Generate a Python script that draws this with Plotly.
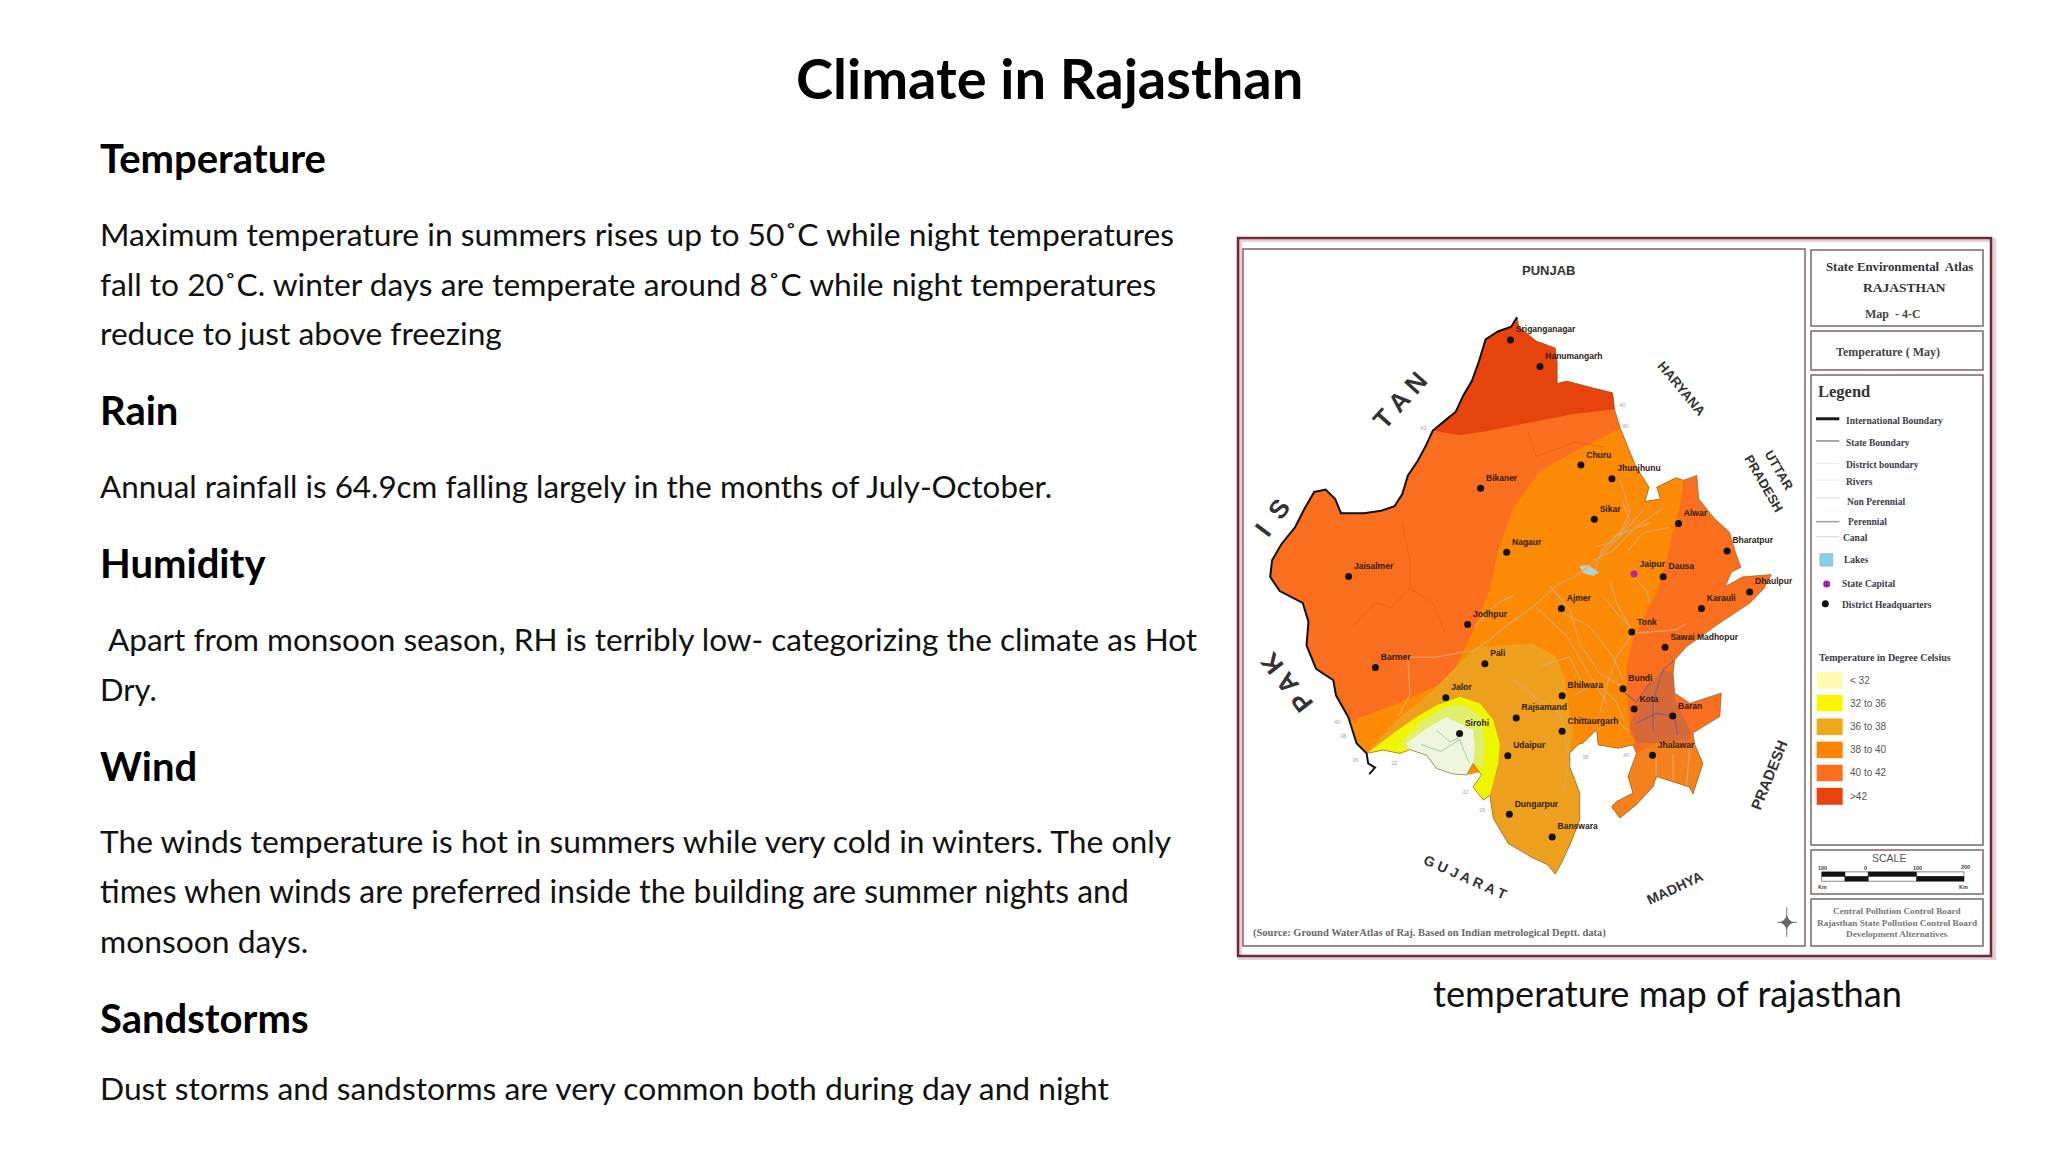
import plotly.graph_objects as go

# slide text
title_text = "Climate in Rajasthan"
heading_labels = ["Temperature", "Rain", "Humidity", "Wind", "Sandstorms"]
heading_y = [158, 410, 563, 766, 1018]
body_lines = [
    "Maximum temperature in summers rises up to 50˚C while night temperatures",
    "fall to 20˚C. winter days are temperate around 8˚C while night temperatures",
    "reduce to just above freezing",
    "Annual rainfall is 64.9cm falling largely in the months of July-October.",
    "Apart from monsoon season, RH is terribly low- categorizing the climate as Hot",
    "Dry.",
    "The winds temperature is hot in summers while very cold in winters. The only",
    "times when winds are preferred inside the building are summer nights and",
    "monsoon days.",
    "Dust storms and sandstorms are very common both during day and night",
]
body_y = [234, 284, 333, 486, 639, 689, 841, 891, 941, 1088]
body_x = [98, 98, 98, 98, 106, 98, 98, 98, 98, 98]
# Lato runs a little off Calibri, so each line gets its own size
body_size = [31.8, 31.7, 31.7, 31.37, 31.5, 31, 31.8, 31.9, 31.8, 31.75]
caption_text = "temperature map of rajasthan"

# map outline and temperature zones
border_x = [750, 735, 700, 668, 650, 632, 610, 590, 560, 530, 510, 490, 465, 450, 430, 395, 350, 290, 275, 250, 220, 195, 170, 135, 110, 105, 130, 190, 205, 200, 225, 270, 277, 309, 331, 357, 361, 379, 364]
border_y = [185, 205, 215, 232, 280, 320, 350, 385, 405, 425, 460, 490, 520, 560, 585, 595, 600, 600, 570, 550, 555, 590, 630, 665, 700, 735, 765, 790, 830, 880, 930, 954, 986, 1032, 1088, 1109, 1130, 1139, 1153]

state_x = [750, 735, 700, 668, 650, 632, 610, 590, 560, 530, 510, 490, 465, 450, 430, 395, 350, 290, 275, 250, 220, 195, 170, 135, 110, 105, 130, 190, 205, 200, 225, 270, 277, 309, 331, 357, 400, 444, 470, 514, 540, 579, 618, 635, 657, 635, 662, 679, 688, 727, 790, 830, 850, 870, 890, 914, 914, 888, 888, 910, 923, 958, 962, 1014, 1053, 1062, 1040, 1053, 1010, 997, 1019, 1062, 1106, 1114, 1200, 1210, 1236, 1215, 1210, 1280, 1284, 1202, 1162, 1158, 1162, 1193, 1280, 1358, 1395, 1415, 1340, 1295, 1310, 1335, 1320, 1305, 1265, 1225, 1220, 1185, 1165, 1115, 1125, 1085, 1095, 1060, 1040, 1020, 1005, 1000, 950, 880, 855, 855, 850, 800, 755]
state_y = [185, 205, 215, 232, 280, 320, 350, 385, 405, 425, 460, 490, 520, 560, 585, 595, 600, 600, 570, 550, 555, 590, 630, 665, 700, 735, 765, 790, 830, 880, 930, 954, 986, 1032, 1088, 1109, 1102, 1109, 1101, 1113, 1141, 1152, 1155, 1130, 1155, 1180, 1208, 1198, 1247, 1300, 1330, 1345, 1365, 1335, 1300, 1250, 1193, 1137, 1108, 1090, 1087, 1059, 1091, 1098, 1091, 1109, 1158, 1193, 1211, 1222, 1246, 1218, 1179, 1158, 1180, 1195, 1130, 1091, 1066, 1031, 981, 1003, 981, 939, 911, 883, 833, 791, 760, 730, 735, 755, 725, 715, 680, 640, 610, 570, 520, 530, 525, 545, 570, 575, 545, 500, 460, 420, 380, 345, 335, 320, 325, 280, 250, 235, 205]

hot_x = [750, 735, 700, 668, 650, 632, 610, 590, 560, 530, 600, 680, 800, 900, 1005, 1000, 950, 880, 855, 855, 850, 800, 755]
hot_y = [185, 205, 215, 232, 280, 320, 350, 385, 405, 425, 435, 425, 405, 390, 380, 345, 335, 320, 325, 280, 250, 235, 205]

mid_x = [1020, 1040, 1060, 1095, 1085, 1125, 1115, 1165, 1185, 1175, 1158, 1141, 1115, 1088, 1053, 1036, 1040, 1045, 1062, 1053, 1014, 962, 958, 923, 910, 888, 640, 618, 579, 540, 514, 470, 444, 400, 357, 331, 313, 426, 514, 574, 640, 680, 700, 740, 810, 900]
mid_y = [420, 460, 500, 545, 575, 570, 545, 525, 530, 590, 636, 699, 770, 812, 869, 925, 1010, 1066, 1087, 1091, 1098, 1091, 1059, 1087, 1090, 1108, 1150, 1155, 1152, 1141, 1113, 1101, 1109, 1102, 1109, 1088, 1042, 1007, 975, 954, 840, 760, 680, 590, 510, 470]

lobe_x = [1062, 1040, 1053, 1010, 997, 1019, 1062, 1106, 1114, 1200, 1210, 1236, 1215, 1114]
lobe_y = [1109, 1158, 1193, 1211, 1222, 1246, 1218, 1179, 1158, 1180, 1195, 1130, 1091, 1087]

warm_x = [365, 444, 531, 640, 792, 853, 875, 884, 897, 888, 888, 914, 914, 890, 870, 850, 830, 790, 727, 688, 679, 662, 635, 657, 635, 618, 579, 540, 514, 470, 444, 400]
warm_y = [1100, 1032, 975, 885, 876, 904, 953, 1010, 1059, 1108, 1137, 1193, 1250, 1300, 1335, 1365, 1345, 1330, 1300, 1247, 1198, 1208, 1180, 1155, 1130, 1155, 1152, 1141, 1113, 1101, 1109, 1102]

mild_x = [357, 426, 487, 540, 601, 653, 688, 705, 701, 679, 662, 635, 657, 635, 618, 579, 540, 514, 470, 444, 400]
mild_y = [1109, 1067, 1032, 1007, 989, 1003, 1039, 1088, 1130, 1198, 1208, 1180, 1155, 1130, 1155, 1152, 1141, 1113, 1101, 1109, 1102]

lime_x = [444, 500, 560, 610, 655, 665, 660, 635, 618, 579, 540, 514, 470]
lime_y = [1090, 1040, 1012, 1005, 1030, 1090, 1140, 1130, 1155, 1152, 1141, 1113, 1101]

cool_x = [461, 514, 566, 635, 640, 635, 618, 579, 540, 514, 470]
cool_y = [1088, 1056, 1032, 1060, 1095, 1130, 1155, 1152, 1141, 1113, 1101]

kota_x = [1045, 1062, 1097, 1132, 1158, 1162, 1202, 1202, 1114, 1062]
kota_y = [1052, 1010, 960, 932, 939, 996, 1059, 1080, 1087, 1087]

lake_x = [912, 935, 965, 950, 925]
lake_y = [712, 710, 725, 733, 728]

river_paths = [
    ([440, 470, 465, 540, 640, 679, 731, 792, 862, 910, 966, 1027, 1080], [1030, 985, 905, 905, 890, 868, 833, 798, 748, 731, 692, 643, 593]),
    ([871, 940, 1001, 1027], [812, 840, 904, 953]),
    ([836, 888, 914, 966, 1023], [755, 805, 876, 939, 967]),
    ([1053, 1010, 984, 966], [854, 904, 967, 1024]),
    ([975, 1027, 1062, 1167, 1193], [777, 826, 854, 847, 833]),
    ([993, 1010, 1045], [741, 791, 840]),
    ([958, 1010, 1045, 1023], [671, 657, 614, 572]),
    ([1054, 1088, 1097], [734, 763, 791]),
    ([810, 888, 923], [925, 904, 967]),
    ([740, 810, 862, 888, 871], [953, 996, 1024, 1123, 1186]),
    ([1020, 1045, 1020, 970, 955], [530, 600, 640, 680, 720]),
    ([1130, 1060, 1000, 950], [590, 630, 680, 700]),
    ([1150, 1080, 1040], [630, 640, 680]),
    ([1000, 1100], [650, 620]),
    ([800, 880, 930, 990], [800, 860, 930, 1010]),
    ([900, 960, 1010, 1030], [985, 960, 1000, 1040]),
    ([960, 1000, 1040], [1060, 1035, 1060]),
    ([640, 700, 740], [840, 790, 775]),
    ([1114, 1114], [1116, 1165]),
    ([1158, 1158], [1109, 1172]),
    ([1202, 1193], [1094, 1179]),
]
kota_rivers = [
    ([1162, 1132, 1106, 1106], [911, 932, 996, 1059]),
    ([1062, 1114, 1162, 1170], [1045, 1024, 1031, 1070]),
    ([1023, 1062, 1097], [975, 1000, 960]),
]
sirohi_rivers = [
    ([500, 550, 600, 625], [1090, 1105, 1080, 1130]),
    ([540, 575, 600], [1060, 1085, 1075]),
]
district_lines = [
    ([450, 470, 470, 530, 560], [620, 700, 760, 790, 850]),
    ([320, 380, 420, 470], [840, 790, 800, 760]),
    ([780, 800, 900, 980], [430, 480, 450, 460]),
]

# district headquarters
city_names = ["Sriganganagar", "Hanumangarh", "Churu", "Jhunjhunu", "Bikaner", "Sikar", "Alwar", "Bharatpur", "Nagaur", "Dausa", "Jaisalmer", "Dhaulpur", "Karauli", "Ajmer", "Jodhpur", "Tonk", "Sawai Madhopur", "Barmer", "Pali", "Bundi", "Bhilwara", "Jalor", "Kota", "Baran", "Rajsamand", "Chittaurgarh", "Sirohi", "Jhalawar", "Udaipur", "Dungarpur", "Banswara"]
city_x = [733, 810, 917, 998, 655, 952, 1172, 1299, 723, 1132, 310, 1358, 1232, 866, 621, 1050, 1137, 380, 666, 1027, 868, 564, 1056, 1157, 748, 868, 600, 1104, 726, 730, 842]
city_y = [233, 289, 498, 527, 547, 613, 622, 680, 683, 735, 734, 767, 802, 802, 836, 852, 884, 927, 919, 972, 987, 991, 1015, 1030, 1034, 1062, 1067, 1113, 1114, 1238, 1286]
capital_name = ["Jaipur"]
capital_x = [1056]
capital_y = [729]

# neighbours printed around the state
region_names = ["PUNJAB", "HARYANA", "UTTAR", "PRADESH", "PRADESH", "MADHYA", "G U J A R A T", "T A N", "I  S", "P A K"]
region_x = [833, 1180, 1435, 1395, 1407, 1162, 615, 445, 110, 148]
region_y = [85, 335, 510, 537, 1155, 1395, 1370, 360, 610, 958]
region_angle = [0, 50, 60, 60, -68, -25, 24, -48, -53, -128]
region_size = [13, 13.5, 13, 13, 15, 14, 14, 26, 26, 26]

contour_labels = ["42", "40", "40", "40", "38", "36", "32", "32", "36", "38", "40"]
contour_x = [505, 1027, 1033, 280, 297, 327, 430, 615, 660, 928, 1037]
contour_y = [420, 370, 415, 1042, 1072, 1124, 1130, 1190, 1228, 1117, 1112]

# frame of the map sheet
panel_x0 = [1243, 1811, 1811, 1811, 1811, 1811]
panel_x1 = [1805, 1983, 1983, 1983, 1983, 1983]
panel_y0 = [249, 250, 331, 375, 850, 899]
panel_y1 = [946, 326, 370, 845, 894, 946]

# legend column
legend_lines = ["International Boundary", "State Boundary", "District boundary", "Rivers", "Non Perennial", "Perennial", "Canal", "Lakes", "State Capital", "District Headquarters"]
legend_line_x = [133, 133, 133, 133, 136, 138, 124, 127, 121, 119]
legend_line_y = [404, 451, 497, 535, 577, 618, 652, 700, 751, 794]
sample_y = [400, 447, 495, 530, 568, 618, 650]
sample_colors = ["#1a1a1a", "#8a8a8a", "#e8e8e8", "#e6eef0", "#cfe4ee", "#8fa3ad", "#c8d8e4"]
sample_widths = [3, 1.5, 1, 1, 1, 1.5, 1]

temp_labels = ["< 32", "32 to 36", "36 to 38", "38 to 40", "40 to 42", ">42"]
temp_colors = ["#fdfbb0", "#fbf500", "#f0a818", "#fb8500", "#f96f1f", "#e6440c"]
temp_top = [937, 985, 1035, 1084, 1133, 1182]
temp_bottom = [972, 1020, 1070, 1119, 1168, 1218]

scale_edges = [65, 135, 205, 350, 492]
scale_labels = ["100", "0", "100", "200", "Km", "Km"]
scale_label_x = [67, 197, 352, 497, 68, 490]
scale_label_y = [1352, 1352, 1352, 1350, 1392, 1392]

credit_lines = ["Central Pollution Control Board", "Rajasthan State Pollution Control Board", "Development Alternatives"]
credit_y = [1443, 1468, 1492]

SANS = "Lato"
SERIF = "Liberation Serif"
ARIAL = "Liberation Sans"

fig = go.Figure()


def zone(xs, ys, color):
    fig.add_trace(go.Scatter(x=xs, y=ys, xaxis="x2", yaxis="y2", mode="lines", fill="toself",
                             fillcolor=color, line=dict(width=0), hoverinfo="skip"))


def map_line(xs, ys, color, width):
    fig.add_trace(go.Scatter(x=xs, y=ys, xaxis="x2", yaxis="y2", mode="lines",
                             line=dict(color=color, width=width), hoverinfo="skip"))


zone(state_x, state_y, "#f96f1f")
zone(mid_x, mid_y, "#fb8a05")
zone(lobe_x, lobe_y, "#f4811c")
zone(hot_x, hot_y, "#e6440c")
zone(warm_x, warm_y, "#eda01e")
zone(mild_x, mild_y, "#eef500")
zone(lime_x, lime_y, "#dfef6b")
zone(cool_x, cool_y, "#eef5dc")
zone(kota_x, kota_y, "rgba(165,95,95,0.4)")
zone(lake_x, lake_y, "#b9cfc8")

for rx, ry in district_lines:
    map_line(rx, ry, "rgba(190,85,20,0.35)", 1)
for rx, ry in river_paths:
    map_line(rx, ry, "rgba(215,170,115,0.75)", 1.4)
for rx, ry in kota_rivers:
    map_line(rx, ry, "rgba(120,90,150,0.7)", 1.4)
for rx, ry in sirohi_rivers:
    map_line(rx, ry, "rgba(150,190,150,0.8)", 1)

# thin state line, then the heavy international border on the west side
map_line(state_x + state_x[:1], state_y + state_y[:1], "rgba(120,95,50,0.6)", 1)
map_line(border_x, border_y, "#111111", 2)

fig.add_trace(go.Scatter(x=city_x, y=city_y, xaxis="x2", yaxis="y2", mode="markers+text", text=city_names,
                         textposition="top right", textfont=dict(family=ARIAL, size=8.5, color="#2e1a10", weight=700),
                         marker=dict(color="#111111", size=7), hoverinfo="skip"))
fig.add_trace(go.Scatter(x=capital_x, y=capital_y, xaxis="x2", yaxis="y2", mode="markers+text", text=capital_name,
                         textposition="top right", textfont=dict(family=ARIAL, size=8.5, color="#2e1a10", weight=700),
                         marker=dict(color="#c020b0", size=7), hoverinfo="skip"))

# compass
map_line([1430, 1482, None, 1455, 1455], [1467, 1467, None, 1435, 1498], "#777777", 1)
fig.add_trace(go.Scatter(x=[1455], y=[1467], xaxis="x2", yaxis="y2", mode="markers",
                         marker=dict(symbol="star-diamond", color="#666666", size=11), hoverinfo="skip"))

# legend samples
for ly, lc, lw in zip(sample_y, sample_colors, sample_widths):
    fig.add_trace(go.Scatter(x=[48, 118], y=[ly, ly], xaxis="x3", yaxis="y3", mode="lines",
                             line=dict(color=lc, width=lw), hoverinfo="skip"))
fig.add_trace(go.Scatter(x=[80, 76], y=[750, 792], xaxis="x3", yaxis="y3", mode="markers",
                         marker=dict(color=["#a020a0", "#111111"], size=7), hoverinfo="skip"))

shapes = []
# outer frame, pale edge first
shapes.append(dict(type="rect", xref="x", yref="y", x0=1240, x1=1994, y0=240, y1=958, line=dict(color="#e6d0d4", width=4)))
shapes.append(dict(type="rect", xref="x", yref="y", x0=1238, x1=1991, y0=238, y1=956, line=dict(color="#6e2a38", width=2.5)))
for x0, x1, y0, y1 in zip(panel_x0, panel_x1, panel_y0, panel_y1):
    shapes.append(dict(type="rect", xref="x", yref="y", x0=x0, x1=x1, y0=y0, y1=y1, line=dict(color="#7d6468", width=1.5)))
shapes.append(dict(type="rect", xref="x3", yref="y3", x0=60, x1=98, y0=686, y1=712, fillcolor="#7fd3e6", line=dict(color="#9ab8c0", width=1)))
for top, bottom, color in zip(temp_top, temp_bottom, temp_colors):
    shapes.append(dict(type="rect", xref="x3", yref="y3", x0=50, x1=128, y0=top, y1=bottom, fillcolor=color, line=dict(width=0)))
# scale bar, two rows with alternating fill
for i in range(len(scale_edges) - 1):
    shapes.append(dict(type="rect", xref="x3", yref="y3", x0=scale_edges[i], x1=scale_edges[i + 1], y0=1360, y1=1370,
                       fillcolor="#111111" if i % 2 == 0 else "#ffffff", line=dict(color="#111111", width=0.5)))
    shapes.append(dict(type="rect", xref="x3", yref="y3", x0=scale_edges[i], x1=scale_edges[i + 1], y0=1370, y1=1380,
                       fillcolor="#ffffff" if i % 2 == 0 else "#111111", line=dict(color="#111111", width=0.5)))

notes = []


def note(text, x, y, size, family=SANS, color="#000000", anchor="left", bold=False, angle=0, axes=""):
    notes.append(dict(text=text, x=x, y=y, xref="x" + axes, yref="y" + axes, showarrow=False, xanchor=anchor,
                      yanchor="middle", textangle=angle,
                      font=dict(family=family, size=size, color=color, weight=700 if bold else 400)))


note(title_text, 1049, 77, 56, anchor="center", bold=True)
for label, y in zip(heading_labels, heading_y):
    note(label, 98, y, 40, bold=True)
for line, x, y, size in zip(body_lines, body_x, body_y, body_size):
    note(line, x, y, size, color="#111111")
note(caption_text, 1667, 993, 36.2, anchor="center", color="#111111")

for name, x, y, angle, size in zip(region_names, region_x, region_y, region_angle, region_size):
    note(name, x, y, size, family=ARIAL, color="#333333", anchor="center", bold=True, angle=angle, axes="2")
for label, x, y in zip(contour_labels, contour_x, contour_y):
    note(label, x, y, 6, family=ARIAL, color="#aaaaaa", anchor="center", axes="2")
note("(Source: Ground WaterAtlas of Raj. Based on Indian metrological Deptt. data)", 55, 1489, 10.5, family=SERIF,
     color="#666666", bold=True, axes="2")

note("State Environmental  Atlas", 298, 78, 12.8, family=SERIF, color="#333333", anchor="center", bold=True, axes="3")
note("RAJASTHAN", 312, 122, 13.5, family=SERIF, color="#333333", anchor="center", bold=True, axes="3")
note("Map  - 4-C", 280, 177, 12, family=SERIF, color="#444444", anchor="center", bold=True, axes="3")
note("Temperature ( May)", 265, 258, 12, family=SERIF, color="#444444", anchor="center", bold=True, axes="3")
note("Legend", 48, 343, 16.5, family=SERIF, color="#333333", bold=True, axes="3")
for label, x, y in zip(legend_lines, legend_line_x, legend_line_y):
    note(label, x, y, 9.5, family=SERIF, color="#3a3a4a", bold=True, axes="3")
note("Temperature in Degree Celsius", 52, 906, 10, family=SERIF, color="#3a3a4a", bold=True, axes="3")
for label, y0, y1 in zip(temp_labels, temp_top, temp_bottom):
    note(label, 143, (y0 + y1) / 2, 10, family=ARIAL, color="#555555", axes="3")
note("SCALE", 268, 1331, 10.5, family=ARIAL, color="#555555", anchor="center", axes="3")
for label, x, y in zip(scale_labels, scale_label_x, scale_label_y):
    note(label, x, y, 5.5, family=ARIAL, color="#444444", anchor="center", bold=True, axes="3")
for line, y in zip(credit_lines, credit_y):
    note(line, 291, y, 9.2, family=SERIF, color="#777777", anchor="center", bold=True, axes="3")

hidden = dict(visible=False, showgrid=False, zeroline=False, fixedrange=True)
fig.update_layout(
    width=2048, height=1152, margin=dict(l=0, r=0, t=0, b=0), showlegend=False,
    paper_bgcolor="white", plot_bgcolor="white", shapes=shapes, annotations=notes,
    xaxis=dict(range=[0, 2048], domain=[0, 1], **hidden),
    yaxis=dict(range=[1152, 0], domain=[0, 1], **hidden),
    xaxis2=dict(range=[0, 1568], domain=[1230 / 2048, 1830 / 2048], anchor="y2", **hidden),
    yaxis2=dict(range=[1568, 0], domain=[1 - 970 / 1152, 1 - 230 / 1152], anchor="x2", **hidden),
    xaxis3=dict(range=[0, 654], domain=[1800 / 2048, 2018 / 2048], anchor="y3", **hidden),
    yaxis3=dict(range=[1568, 0], domain=[1 - 970 / 1152, 1 - 230 / 1152], anchor="x3", **hidden),
)

# the slide fills the whole window
fig.write_html("out.html", config=dict(displayModeBar=False),
               post_script="document.body.style.margin='0';document.body.style.overflow='hidden';")
